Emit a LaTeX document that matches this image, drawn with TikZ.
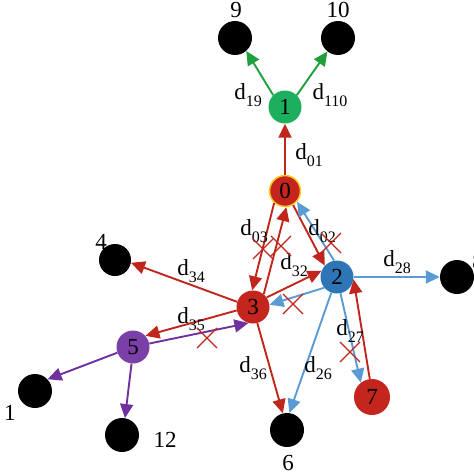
\documentclass[tikz,border=0pt]{standalone}
\usepackage{fontspec}
\setmainfont{Liberation Serif}
\usetikzlibrary{arrows.meta,shapes.misc}
\definecolor{nred}{HTML}{C4261D}
\definecolor{ngreen}{HTML}{1DAF5E}
\definecolor{nblue}{HTML}{2E75B6}
\definecolor{npurple}{HTML}{7B3FA8}
\definecolor{ered}{HTML}{C0261C}
\definecolor{egreen}{HTML}{1FA03C}
\definecolor{eblue}{HTML}{5B9BD5}
\definecolor{epurple}{HTML}{7030A0}
\definecolor{glow}{HTML}{FFC820}
\newcommand\dl[1]{d\raisebox{-0.3em}{\fontsize{16}{17}\selectfont #1}}
\tikzset{
  x=1pt,y=-1pt,
  every node/.style={font=\fontsize{23}{26}\selectfont},
  blk/.style={circle,fill=black,minimum size=34pt,inner sep=0pt},
  col/.style={circle,fill=#1,minimum size=33pt,inner sep=0pt},
  arr/.style={draw=#1,line width=1.9pt,-{Triangle[length=14pt,width=13pt]},#1},
  lab/.style={inner sep=0pt},
  xmark/.style={cross out,draw=ered,line width=1.1pt,minimum size=19pt,inner sep=0pt},
}
\begin{document}
\begin{tikzpicture}
\useasboundingbox (0,0) rectangle (474,474);
% nodes
\node[blk] (n9) at (235,38) {};
\node[blk] (n10) at (338,38) {};
\node[col=ngreen] (n1) at (285,107) {1};
\node[col=nred,draw=glow,line width=1.5pt,minimum size=31pt] (n0) at (285,191) {0};
\node[col=nblue] (n2) at (337,277) {2};
\node[col=nred] (n3) at (253,307) {3};
\node[blk,minimum size=32pt] (n4) at (115,260) {};
\node[col=npurple] (n5) at (133,347) {5};
\node[blk] (n11) at (35,391) {};
\node[blk] (n12) at (122,435) {};
\node[blk] (n6) at (287,430) {};
\node[col=nred,minimum size=36pt] (n7) at (372,397) {7};
\node[blk] (n8) at (457,277) {};
% node labels
\node[lab] (t9) at (236,10) {9};
\node[lab] (t10) at (338,10) {10};
\node[lab] (t4) at (101,242) {4};
\node[lab] (t11) at (10,413) {1};
\node[lab] (t12) at (165,440) {12};
\node[lab] (t6) at (288,463) {6};
\node[lab] (t8) at (478,262) {8};
% edges
\draw[arr=egreen] (n1.135) -- (n9.311);
\draw[arr=egreen] (n1.45) -- (n10.232);
\draw[arr=ered] (n0.north) -- (n1.south);
\draw[arr=ered] (n0.228) -- (n3.93);
\draw[arr=ered] (n3.50) -- (n0.275);
\draw[arr=ered] (n0.300) -- (n2.137);
\draw[arr=eblue] (n2.100) -- (n0.318);
\draw[arr=ered] (n3.35) -- (n2.158);
\draw[arr=eblue] (n2.220) -- (n3.8);
\draw[arr=eblue] (n2.east) -- (n8.west);
\draw[arr=eblue] (n2.250) -- (n6.82);
\draw[arr=ered] (n3.285) -- (n6.104);
\draw[arr=eblue] (n2.282) -- (n7.128);
\draw[arr=ered] (n7.97) -- (n2.-8);
\draw[arr=ered] (n3.162) -- (n4.-10);
\draw[arr=ered] (n3.192) -- (n5.42);
\draw[arr=epurple] (n5.12) -- (n3.254);
\draw[arr=epurple] (n5.200) -- (n11.43);
\draw[arr=epurple] (n5.265) -- (n12.80);
% edge labels
\node[lab] (l19) at (248,95) {\dl{19}};
\node[lab] (l110) at (330,95) {\dl{110}};
\node[lab] (l01) at (309,155) {\dl{01}};
\node[lab] (l03) at (254,231) {\dl{03}};
\node[lab] (l02) at (322,231) {\dl{02}};
\node[lab] (l32) at (294,265) {\dl{32}};
\node[lab] (l28) at (397,262) {\dl{28}};
\node[lab] (l27) at (350,331) {\dl{27}};
\node[lab] (l26) at (318,368) {\dl{26}};
\node[lab] (l36) at (253,368) {\dl{36}};
\node[lab] (l34) at (191,271) {\dl{34}};
\node[lab] (l35) at (191,319) {\dl{35}};
% crosses
\node[xmark] (x1) at (263,249) {};
\node[xmark] (x2) at (281,246) {};
\node[xmark] (x3) at (331,243) {};
\node[xmark] (x4) at (293,304) {};
\node[xmark] (x5) at (350,352) {};
\node[xmark] (x6) at (207,338) {};
\end{tikzpicture}
\end{document}
